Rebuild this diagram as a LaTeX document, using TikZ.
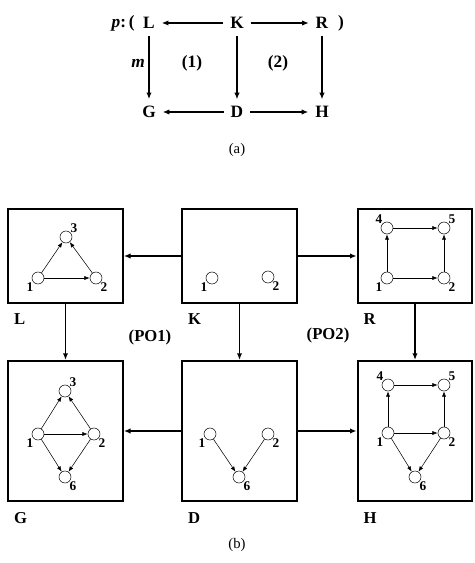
\documentclass[tikz,border=0pt]{standalone}
\usepackage{fontspec}
\setmainfont{Liberation Serif}
\usetikzlibrary{arrows.meta, positioning}

\begin{document}
\begin{tikzpicture}[x=0.75pt, y=-0.75pt,
        lbl/.style={font=\fontsize{12.5}{14}\selectfont\bfseries, inner sep=1pt},
        obj/.style={font=\fontsize{13}{15}\selectfont\bfseries, inner sep=5pt},
        map/.style={-{Latex[length=5pt,width=4pt]}, line width=1.1pt},
        box/.style={draw, line width=1.5pt, minimum width=86pt, inner sep=0pt},
        vtx/.style={draw, circle, minimum size=9pt, inner sep=0pt, thin},
        num/.style={font=\fontsize{10}{11}\selectfont\bfseries, inner sep=0pt},
        edge/.style={-{Latex[length=4pt,width=3pt]}, thin}]
        \useasboundingbox (0,0) rectangle (474,563);

        % (a) the square of morphisms
        \node[obj] (L) at (149,23) {L};
        \node[obj] (K) at (237,23) {K};
        \node[obj] (R) at (322,23) {R};
        \node[obj] (G) at (149,112) {G};
        \node[obj] (D) at (237,112) {D};
        \node[obj] (H) at (322,112) {H};
        \node[obj, inner sep=1pt, left=0pt of L] (p) {\textit{p}:\,(};
        \node[obj, inner sep=1pt, right=1pt of R] (close) {)};
        \draw[map] (K) -- (L);
        \draw[map] (K) -- (R);
        \draw[map] (L) -- (G);
        \draw[map] (K) -- (D);
        \draw[map] (R) -- (H);
        \draw[map] (D) -- (G);
        \draw[map] (D) -- (H);
        \node[obj] (m) at (138,63) {\textit{m}};
        \node[obj] (sq1) at (192,63) {(1)};
        \node[obj] (sq2) at (278,63) {(2)};
        \node[font=\fontsize{11}{13}\selectfont] (capa) at (237,150) {(a)};

        % (b) the graphs
        \foreach \n/\x/\y/\h in {bL/65.5/256/70.5, bK/239.5/256/70.5, bR/415/256/70.5,
                bG/65.5/431/105, bD/239.5/431/105, bH/415/431/105} {
            \node[box, minimum height=\h pt] (\n) at (\x,\y) {};
        }
        \foreach \n/\t in {bL/L, bK/K, bR/R} {
            \node[lbl, below right=6pt and 4pt of \n.south west] (t\t) {\t};
        }
        \foreach \n/\t in {bG/G, bD/D, bH/H} {
            \node[lbl, below right=6.5pt and 4pt of \n.south west] (t\t) {\t};
        }
        \draw[map] (bK) -- (bL);
        \draw[map] (bK) -- (bR);
        \draw[map] (bL) -- (bG);
        \draw[map] (bK) -- (bD);
        \draw[map] (bR) -- (bH);
        \draw[map] (bD) -- (bG);
        \draw[map] (bD) -- (bH);
        \node[lbl] (po1) at (150,337) {(PO1)};
        \node[lbl] (po2) at (328,335) {(PO2)};
        \node[font=\fontsize{11}{13}\selectfont] (capb) at (237,545) {(b)};

        % L
        \node[vtx, label={[num]above right:3}] (L3) at (66,237) {};
        \node[vtx, label={[num]below left:1}] (L1) at (38,278) {};
        \node[vtx, label={[num]below right:2}] (L2) at (96,278) {};
        \draw[edge] (L1) -- (L3);
        \draw[edge] (L2) -- (L3);
        \draw[edge] (L1) -- (L2);

        % K
        \node[vtx, label={[num]below left:1}] (K1) at (212,278) {};
        \node[vtx, label={[num]below right:2}] (K2) at (268,277) {};

        % R
        \node[vtx, label={[num]above left:4}] (R4) at (387,228) {};
        \node[vtx, label={[num]above right:5}] (R5) at (444,228) {};
        \node[vtx, label={[num]below left:1}] (R1) at (387,278) {};
        \node[vtx, label={[num]below right:2}] (R2) at (444,278) {};
        \draw[edge] (R1) -- (R4);
        \draw[edge] (R4) -- (R5);
        \draw[edge] (R1) -- (R2);
        \draw[edge] (R2) -- (R5);

        % G
        \node[vtx, label={[num]above right:3}] (G3) at (65,391) {};
        \node[vtx, label={[num]below left:1}] (G1) at (38,434) {};
        \node[vtx, label={[num]below right:2}] (G2) at (94,434) {};
        \node[vtx, label={[num]below right:6}] (G6) at (65,477) {};
        \draw[edge] (G1) -- (G3);
        \draw[edge] (G2) -- (G3);
        \draw[edge] (G1) -- (G2);
        \draw[edge] (G1) -- (G6);
        \draw[edge] (G2) -- (G6);

        % D
        \node[vtx, label={[num]below left:1}] (D1) at (210,434) {};
        \node[vtx, label={[num]below right:2}] (D2) at (268,434) {};
        \node[vtx, label={[num]below right:6}] (D6) at (239,477) {};
        \draw[edge] (D1) -- (D6);
        \draw[edge] (D2) -- (D6);

        % H
        \node[vtx, label={[num]above left:4}] (H4) at (388,385) {};
        \node[vtx, label={[num]above right:5}] (H5) at (444,385) {};
        \node[vtx, label={[num]below left:1}] (H1) at (388,433) {};
        \node[vtx, label={[num]below right:2}] (H2) at (444,433) {};
        \node[vtx, label={[num]below right:6}] (H6) at (415,477) {};
        \draw[edge] (H1) -- (H4);
        \draw[edge] (H4) -- (H5);
        \draw[edge] (H1) -- (H2);
        \draw[edge] (H2) -- (H5);
        \draw[edge] (H1) -- (H6);
        \draw[edge] (H2) -- (H6);
    \end{tikzpicture}
\end{document}
